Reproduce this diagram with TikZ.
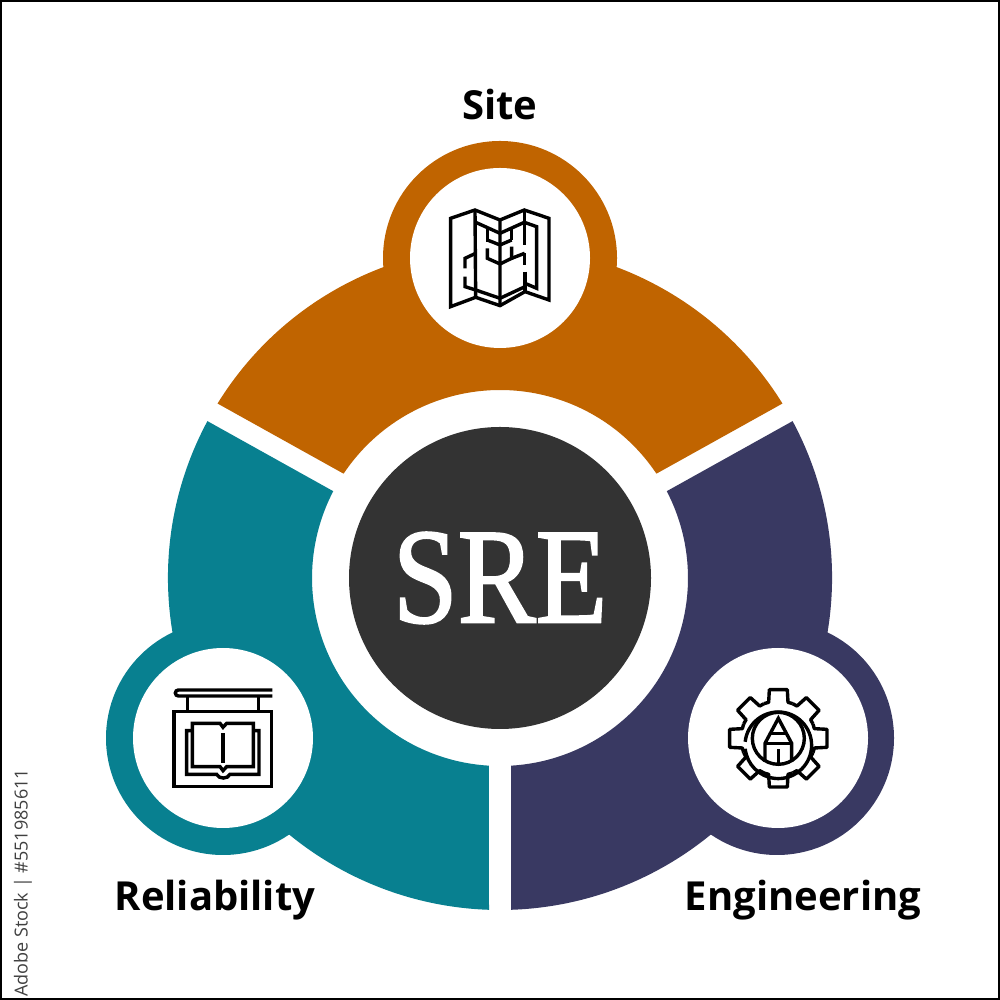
\documentclass[tikz,border=0pt]{standalone}
\usepackage{fontspec}
\setmainfont{Open Sans}
\newfontfamily\serifsre[FakeBold=1.6]{Liberation Serif}
\definecolor{cOrange}{HTML}{C06400}
\definecolor{cTeal}{HTML}{088090}
\definecolor{cNavy}{HTML}{393962}
\definecolor{cDark}{HTML}{333333}
\tikzset{
  label text/.style={font=\fontsize{40}{46}\selectfont\bfseries,text=black,inner sep=0pt,anchor=center},
  icon/.style={draw=black,line width=3.4pt,line join=miter,line cap=butt,fill=none},
  hole/.style={fill=white,draw=none},
}
\begin{document}
\begin{tikzpicture}[x=1pt,y=1pt]
\useasboundingbox (0,0) rectangle (1000,1000);
\fill[white] (0,0) rectangle (1000,1000);
\draw[black,line width=2pt] (1,1) rectangle (999,999);
% sectors
\begin{scope}[shift={(500,422)}]
\fill[cOrange] (148.3:332) arc[start angle=148.3,end angle=31.7,radius=332] -- (33.7:188) arc[start angle=33.7,end angle=146.3,radius=188] -- cycle;
\fill[cTeal] (151.8:332) arc[start angle=151.8,end angle=268.1,radius=332] -- (266.6:188) arc[start angle=266.6,end angle=152.5,radius=188] -- cycle;
\fill[cNavy] (28.2:332) arc[start angle=28.2,end angle=-88.1,radius=332] -- (-86.6:188) arc[start angle=-86.6,end angle=27.5,radius=188] -- cycle;
\fill[cDark] (0,0) circle[radius=151];
\end{scope}
% bumps
\fill[cOrange] (500,742) circle[radius=117];
\fill[cTeal] (223,262) circle[radius=117];
\fill[cNavy] (777,262) circle[radius=117];
\fill[hole] (500,742) circle[radius=90];
\fill[hole] (223,262) circle[radius=90];
\fill[hole] (778,262) circle[radius=90];
% texts
\node[label text] (site) at (500,895) {Site};
\node[label text] (rel) at (215,100) {Reliability};
\node[label text] (eng) at (803,100) {Engineering};
\node[inner sep=0pt,text=white,xscale=0.86,font=\fontsize{136}{140}\selectfont\serifsre] (sre) at (500,422) {SRE};
\node[rotate=90,inner sep=0pt,text=black!75,font=\fontsize{18}{21}\selectfont] (stock) at (23,117) {Adobe Stock | \#551985611};
% map icon
\begin{scope}[shift={(430,810)},x=0.3333pt,y=-0.3333pt]
\draw[icon] (62,85)--(135,60)--(210,90)--(283,60)--(357,85)--(357,330)--(285,305)--(210,347)--(137,322)--(62,350)--cycle;
\draw[icon] (135,60)--(137,322) (210,90)--(210,347);
\draw[icon] (283,60)--(283,165) (284,190)--(284,225) (285,245)--(285,305);
\draw[icon] (137,97)--(210,130)--(283,97)--(320,110)--(320,295)--(285,280);
\draw[icon] (137,300)--(210,325)--(285,290);
\draw[icon] (137,190)--(105,205)--(105,235);
\draw[icon] (105,260)--(105,290)--(137,300);
\draw[icon] (172,115)--(172,155);
\draw[icon] (172,175)--(172,205)--(210,222)--(245,205)--(245,170);
\draw[icon] (245,150)--(245,115);
\draw[icon] (172,150)--(210,165)--(245,150);
\draw[icon] (284,190)--(245,205);
\end{scope}
% sign and book icon
\begin{scope}[shift={(155,330)},x=0.3333pt,y=-0.3333pt]
\draw[icon] (352,60)--(70,60) arc[start angle=90,end angle=270,radius=3pt]--(352,78);
\draw[icon] (97,78)--(97,125) (310,78)--(310,125);
\draw[icon] (57,125) rectangle (350,350);
\draw[icon] (195,290)--(112,290)--(112,160)--(195,160)--(204,172)--(215,160)--(295,160)--(295,290)--(215,290)--(204,302)--cycle;
\draw[icon] (204,190)--(204,280);
\draw[icon] (112,182)--(95,182)--(95,313)--(185,313) .. controls (192,328) and (218,328) .. (225,313)--(312,313)--(312,182)--(295,182);
\end{scope}
% gear icon
\begin{scope}[shift={(710,330)},x=0.3333pt,y=-0.3333pt]
\begin{scope}[shift={(205,205)}]
\foreach \a in {0,45,...,315}{
  \draw[icon,rotate=\a,line join=round] (-43,104)--(-29,108)--(-27,146)--(27,146)--(29,108)--(43,104);
}
\draw[icon] (174:100) arc[start angle=174,end angle=-174,radius=33.3pt];
\draw[icon] (0,0) circle[radius=26pt];
\end{scope}
\draw[icon] (165,276)--(165,220)--(205,145)--(245,220)--(245,276);
\draw[icon] (165,220)--(245,220) (205,238)--(205,283);
\draw[icon] (181,190)--(229,190);
\end{scope}
\end{tikzpicture}
\end{document}
